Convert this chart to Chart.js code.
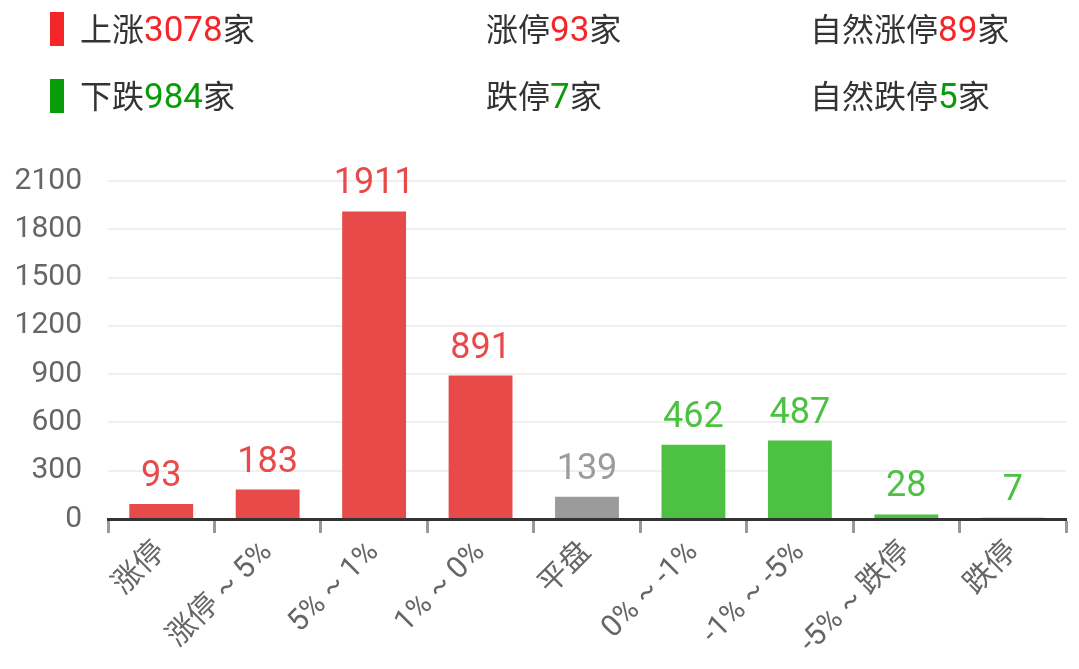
<!DOCTYPE html>
<html>
<head>
<meta charset="utf-8">
<script src="https://cdn.jsdelivr.net/npm/chart.js@4"></script>
<style>
  body { margin: 0; background: #fff; font-family: Roboto, "Noto Sans CJK SC", sans-serif; }
  #wrap { position: relative; width: 1079px; height: 669px; }
  canvas { position: absolute; left: 0; top: 0; }
  .item { position: absolute; font-size: 32px; color: #333; line-height: 34px; white-space: nowrap; }
  .item span { font-size: 35px; }
  .mark { position: absolute; width: 14px; height: 34px; }
  .up { color: #f5262a; }
  .down { color: #089d08; }
</style>
</head>
<body>
<div id="wrap">
  <canvas id="chart" width="1079" height="669"></canvas>
  <div class="mark" style="left:50px;top:12px;background:#f5262a"></div>
  <div class="mark" style="left:50px;top:79px;background:#089d08"></div>
  <div class="item" style="left:80px;top:13px">上涨<span class="up" id="upCount"></span>家</div>
  <div class="item" style="left:486px;top:13px">涨停<span class="up" id="limitUp"></span>家</div>
  <div class="item" style="left:810px;top:13px">自然涨停<span class="up" id="natUp"></span>家</div>
  <div class="item" style="left:80px;top:80px">下跌<span class="down" id="downCount"></span>家</div>
  <div class="item" style="left:486px;top:80px">跌停<span class="down" id="limitDown"></span>家</div>
  <div class="item" style="left:810px;top:80px">自然跌停<span class="down" id="natDown"></span>家</div>
</div>
<script>
const categories = ['涨停', '涨停 ~ 5%', '5% ~ 1%', '1% ~ 0%', '平盘', '0% ~ -1%', '-1% ~ -5%', '-5% ~ 跌停', '跌停'];
const counts = [93, 183, 1911, 891, 139, 462, 487, 28, 7];
const yTicks = [0, 300, 600, 900, 1200, 1500, 1800, 2100];
const summary = { upCount: 3078, limitUp: 93, natUp: 89, downCount: 984, limitDown: 7, natDown: 5 };

Object.keys(summary).forEach(id => {
  document.getElementById(id).textContent = summary[id];
});

const RED = '#e84a4a';
const GRAY = '#9b9b9b';
const GREEN = '#4cc142';
const barColors = categories.map((c, i) => i < 4 ? RED : (i === 4 ? GRAY : GREEN));

// value labels above each bar
const valueLabels = {
  id: 'valueLabels',
  afterDatasetsDraw(chart) {
    const ctx = chart.ctx;
    const meta = chart.getDatasetMeta(0);
    ctx.save();
    ctx.font = '36px Roboto, "Noto Sans CJK SC", sans-serif';
    ctx.textAlign = 'center';
    ctx.textBaseline = 'alphabetic';
    meta.data.forEach((bar, i) => {
      ctx.fillStyle = barColors[i];
      ctx.fillText(String(counts[i]), bar.x, bar.y - 18);
    });
    ctx.restore();
  }
};

const ctx = document.getElementById('chart').getContext('2d');
new Chart(ctx, {
  type: 'bar',
  data: {
    labels: categories,
    datasets: [{
      data: counts,
      backgroundColor: barColors,
      categoryPercentage: 0.6,
      barPercentage: 1
    }]
  },
  options: {
    responsive: false,
    animation: false,
    layout: { padding: { top: 181, right: 13, left: 0, bottom: 0 } },
    plugins: {
      legend: { display: false },
      tooltip: { enabled: false }
    },
    scales: {
      x: {
        afterFit(scale) { scale.height = 150; },
        grid: {
          offset: true,
          drawOnChartArea: false,
          drawTicks: true,
          tickLength: 14,
          tickWidth: 3,
          tickColor: '#999'
        },
        border: { display: true, color: '#333', width: 3 },
        ticks: {
          maxRotation: 45,
          minRotation: 45,
          padding: 2,
          color: '#666',
          font: { size: 30, family: 'Roboto, "Noto Sans CJK SC", sans-serif' }
        }
      },
      y: {
        min: 0,
        max: 2100,
        afterFit(scale) { scale.width = 108; },
        afterBuildTicks(scale) { scale.ticks = yTicks.map(v => ({ value: v })); },
        grid: { color: '#efefef', lineWidth: 2, drawTicks: false },
        border: { display: false },
        ticks: {
          padding: 26,
          color: '#666',
          font: { size: 30, family: 'Roboto, "Noto Sans CJK SC", sans-serif' },
          callback: v => String(v)
        }
      }
    }
  },
  plugins: [valueLabels]
});
</script>
</body>
</html>
